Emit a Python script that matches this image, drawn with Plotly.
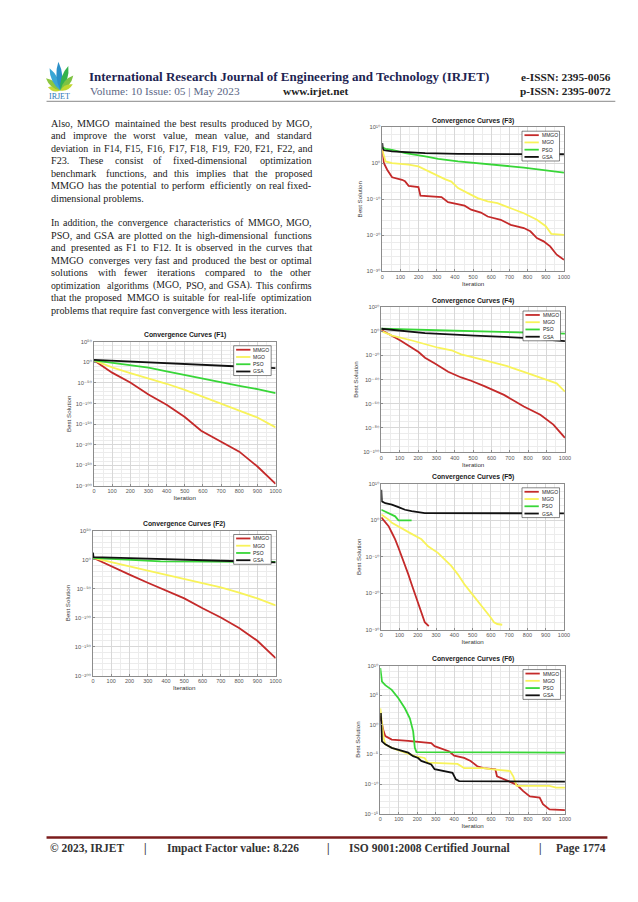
import math
import plotly.graph_objects as go

W, H = 638, 902

# ------------------------------------------------------------------
# DATA  (iteration, log10 of best solution)
# ------------------------------------------------------------------
ALGOS = ["MMGO", "MGO", "PSO", "GSA"]
X_TICKS = [0, 100, 200, 300, 400, 500, 600, 700, 800, 900, 1000]

F1_MMGO_IT = [0, 100, 200, 300, 400, 500, 590, 700, 800, 900, 1000]
F1_MMGO_LG = [5, -25, -49, -78, -103, -133, -166, -192, -217, -253, -295]
F1_MGO_IT = [0, 100, 200, 300, 400, 500, 600, 700, 800, 900, 1000]
F1_MGO_LG = [5, -12, -26, -39, -52, -67, -84, -100, -117, -134, -158]
F1_PSO_IT = [0, 100, 200, 300, 400, 500, 600, 700, 800, 900, 1000]
F1_PSO_LG = [5, -1, -7, -13, -22, -31, -40, -49, -57, -65, -75]
F1_GSA_IT = [0, 100, 200, 300, 400, 500, 600, 700, 800, 900, 1000]
F1_GSA_LG = [6, 4, 2, 0, -2, -4, -6, -8, -10, -12, -14]

F2_MMGO_IT = [0, 100, 200, 300, 400, 500, 600, 700, 800, 900, 1000]
F2_MMGO_LG = [3, -12, -26, -40, -53, -67, -84, -100, -118, -140, -170]
F2_MGO_IT = [0, 100, 200, 300, 400, 500, 600, 700, 800, 900, 1000]
F2_MGO_LG = [3, -5, -12, -19, -26, -33, -40, -48, -57, -67, -79]
F2_PSO_IT = [0, 3, 100, 200, 300, 360, 370, 1000]
F2_PSO_LG = [6, 3, 1, -1, -2, -3, -3.2, -4]
F2_GSA_IT = [0, 3, 200, 400, 600, 800, 1000]
F2_GSA_LG = [12, 4, 2.5, 1, -1, -3, -5]

F3_MMGO_IT = [0, 9, 27, 54, 109, 125, 145, 199, 210, 326, 362, 453, 489, 543, 580,
              652, 707, 779, 815, 851, 888, 924, 960, 1000]
F3_MMGO_LG = [3.7, 0, -1.8, -3.9, -4.6, -5.0, -6.3, -6.6, -9.0, -9.4, -10.8, -11.8,
              -12.9, -13.7, -14.8, -15.7, -17.1, -18.0, -18.9, -20.8, -21.7, -23.1,
              -25.4, -26.8]
F3_MGO_IT = [0, 18, 54, 145, 199, 236, 290, 344, 380, 417, 471, 525, 580, 634, 707,
             779, 851, 900, 930, 1000]
F3_MGO_LG = [3.7, 0.5, 0, -0.4, -0.9, -1.8, -3.2, -4.4, -5.1, -6.9, -8.3, -9.7,
             -10.6, -11.1, -12.5, -13.9, -15.7, -17.5, -19.6, -19.9]
F3_PSO_IT = [0, 18, 54, 127, 236, 308, 417, 598, 779, 1000]
F3_PSO_LG = [4.4, 4.0, 3.7, 2.8, 1.9, 1.2, 0.5, -0.4, -1.2, -2.6]
F3_GSA_IT = [0, 3, 10, 54, 236, 417, 1000]
F3_GSA_LG = [5.6, 4.0, 3.6, 3.3, 2.8, 2.6, 2.5]

F4_MMGO_IT = [0, 104, 203, 238, 292, 364, 435, 489, 561, 668, 776, 866, 937, 1000]
F4_MMGO_LG = [1, -7.7, -17.2, -21.9, -26.8, -33.6, -38.3, -41, -45.4, -52.7, -62.3,
              -69.1, -77.3, -88.3]
F4_MGO_IT = [0, 59, 167, 238, 310, 382, 435, 507, 597, 686, 776, 866, 955, 1000]
F4_MGO_LG = [0, -3.6, -7.7, -10.9, -13.7, -15.8, -19.1, -21.9, -25.4, -29, -33.6,
             -38.3, -43.2, -50]
F4_PSO_IT = [0, 250, 500, 750, 1000]
F4_PSO_LG = [2, 1, 0, -1, -2]
F4_GSA_IT = [0, 238, 507, 776, 1000]
F4_GSA_LG = [2, -1.6, -3.6, -5.5, -8.2]

F5_MMGO_IT = [0, 9, 40, 58, 76, 94, 112, 130, 148, 166, 184, 202, 220, 238, 260]
F5_MMGO_LG = [0.8, 0.2, -1.6, -3.4, -5.2, -7.5, -9.8, -12.0, -14.8, -17.5, -20.2,
              -22.9, -25.6, -27.9, -29.0]
F5_MGO_IT = [0, 40, 58, 112, 166, 220, 256, 310, 347, 383, 419, 455, 491, 527, 563,
             599, 617, 635, 662]
F5_MGO_LG = [1.6, 0.2, -0.7, -2.1, -3.7, -5.2, -7.1, -8.9, -10.7, -12.5, -14.8,
             -17.5, -19.8, -22.0, -24.3, -26.6, -27.9, -28.4, -28.6]
F5_PSO_IT = [0, 40, 76, 94, 166]
F5_PSO_LG = [2.9, 2.0, 1.1, 0, 0]
F5_GSA_IT = [0, 3, 22, 58, 94, 130, 166, 202, 238, 1000]
F5_GSA_LG = [8.4, 5.2, 4.7, 4.3, 3.6, 2.9, 2.5, 2.2, 2.0, 1.9]

F6_MMGO_IT = [0, 5, 18, 27, 44, 62, 151, 240, 276, 294, 347, 374, 400, 454, 489, 525,
              560, 623, 632, 667, 738, 774, 810, 863, 881, 916, 1000]
F6_MMGO_LG = [1.5, 0.6, -1.1, -1.9, -2.2, -2.5, -2.7, -2.9, -3.1, -3.6, -4.2, -4.5,
              -5.2, -5.6, -6.1, -7.0, -7.3, -7.5, -8.7, -9.2, -10.1, -11.2, -12.1,
              -12.3, -13.4, -14.3, -14.4]
F6_MGO_IT = [0, 9, 18, 27, 62, 116, 187, 240, 258, 418, 454, 560, 596, 703, 720, 738,
             916, 952, 1000]
F6_MGO_LG = [2.8, 0, -2.2, -3.3, -3.9, -4.5, -5.3, -5.6, -6.4, -6.6, -7.3, -7.3,
             -7.5, -7.8, -8.7, -10.3, -10.3, -10.6, -10.6]
F6_PSO_IT = [0, 9, 27, 62, 98, 133, 160, 178, 187, 196, 1000]
F6_PSO_LG = [9.6, 7.3, 6.7, 5.9, 4.5, 2.8, 1.1, -1.1, -3.9, -4.6, -4.7]
F6_GSA_IT = [0, 3, 9, 27, 62, 151, 178, 205, 222, 276, 294, 347, 391, 409, 427, 1000]
F6_GSA_LG = [0.6, 2, -2.8, -3.3, -3.9, -4.7, -5.3, -5.6, -6.1, -6.7, -7.5, -7.8,
             -8.1, -9.2, -9.5, -9.6]

# ------------------------------------------------------------------
# TEXT
# ------------------------------------------------------------------
PARA1 = [
    "Also, MMGO maintained the best results produced by MGO,",
    "and improve the worst value, mean value, and standard",
    "deviation in F14, F15, F16, F17, F18, F19, F20, F21, F22, and",
    "F23. These consist of fixed-dimensional optimization",
    "benchmark functions, and this implies that the proposed",
    "MMGO has the potential to perform efficiently on real fixed-",
    "dimensional problems.",
]
PARA2 = [
    "In addition, the convergence characteristics of MMGO, MGO,",
    "PSO, and GSA are plotted on the high-dimensional functions",
    "and presented as F1 to F12. It is observed in the curves that",
    "MMGO converges very fast and produced the best or optimal",
    "solutions with fewer iterations compared to the other",
    "optimization algorithms (MGO, PSO, and GSA). This confirms",
    "that the proposed MMGO is suitable for real-life optimization",
    "problems that require fast convergence with less iteration.",
]
HEADER_TITLE = "International Research Journal of Engineering and Technology (IRJET)"
HEADER_EISSN = "e-ISSN: 2395-0056"
HEADER_VOL = "Volume: 10 Issue: 05 | May 2023"
HEADER_WEB = "www.irjet.net"
HEADER_PISSN = "p-ISSN: 2395-0072"
FOOTER = ["© 2023, IRJET", "|", "Impact Factor value: 8.226", "|",
          "ISO 9001:2008 Certified Journal", "|", "Page 1774"]

# ------------------------------------------------------------------
# STYLE / LAYOUT
# ------------------------------------------------------------------
COLORS = {"MMGO": "#c42a2a", "MGO": "#f8f35a", "PSO": "#38d638", "GSA": "#111111"}
SANS = "Liberation Sans, Arial, DejaVu Sans, sans-serif"
SERIF = "Liberation Serif, Times New Roman, serif"
GRID = "#d8d8d8"
MINOR = "#ececec"
AXC = "#8c8c8c"
TICKC = "#555555"
LW = 1.8
SUP = str.maketrans("0123456789-", "⁰¹²³⁴⁵⁶⁷⁸⁹⁻")

DATA = {
    "F1": {"MMGO": (F1_MMGO_IT, F1_MMGO_LG), "MGO": (F1_MGO_IT, F1_MGO_LG),
           "PSO": (F1_PSO_IT, F1_PSO_LG), "GSA": (F1_GSA_IT, F1_GSA_LG)},
    "F2": {"MMGO": (F2_MMGO_IT, F2_MMGO_LG), "MGO": (F2_MGO_IT, F2_MGO_LG),
           "PSO": (F2_PSO_IT, F2_PSO_LG), "GSA": (F2_GSA_IT, F2_GSA_LG)},
    "F3": {"MMGO": (F3_MMGO_IT, F3_MMGO_LG), "MGO": (F3_MGO_IT, F3_MGO_LG),
           "PSO": (F3_PSO_IT, F3_PSO_LG), "GSA": (F3_GSA_IT, F3_GSA_LG)},
    "F4": {"MMGO": (F4_MMGO_IT, F4_MMGO_LG), "MGO": (F4_MGO_IT, F4_MGO_LG),
           "PSO": (F4_PSO_IT, F4_PSO_LG), "GSA": (F4_GSA_IT, F4_GSA_LG)},
    "F5": {"MMGO": (F5_MMGO_IT, F5_MMGO_LG), "MGO": (F5_MGO_IT, F5_MGO_LG),
           "PSO": (F5_PSO_IT, F5_PSO_LG), "GSA": (F5_GSA_IT, F5_GSA_LG)},
    "F6": {"MMGO": (F6_MMGO_IT, F6_MMGO_LG), "MGO": (F6_MGO_IT, F6_MGO_LG),
           "PSO": (F6_PSO_IT, F6_PSO_LG), "GSA": (F6_GSA_IT, F6_GSA_LG)},
}

# axes box in page pixels (left, top, right, bottom), log range, major & minor step
CHARTS = [
    ("F1", (85, 333, 269, 478), (-300, 50), 50, 10),
    ("F2", (84, 523, 269, 669), (-200, 50), 50, 10),
    ("F3", (377, 117, 561, 262), (-30, 10), 10, 2),
    ("F4", (376, 298, 562, 444), (-100, 20), 20, 5),
    ("F5", (376, 476, 561, 623), (-30, 10), 10, 2),
    ("F6", (375, 659, 562, 808), (-15, 10), 5, 1),
]


def X(px):
    return px / W


def Y(py):
    return 1 - py / H


fig = go.Figure()
layout = {}
shapes = []
annots = []


def text(x, y, s, size, color="#1a1a1a", family=SERIF, anchor="left", bold=False):
    annots.append(dict(x=X(x), y=Y(y), xref="paper", yref="paper",
                       text=("<b>%s</b>" % s) if bold else s, showarrow=False,
                       xanchor=anchor, yanchor="middle", borderpad=0,
                       font=dict(family=family, size=size, color=color)))


for i, (name, (l, t, r, b), (lo, hi), major, minor) in enumerate(CHARTS):
    s = "" if i == 0 else str(i + 1)
    for algo in ALGOS:
        its, lgs = DATA[name][algo]
        fig.add_trace(go.Scatter(
            x=its, y=[10.0 ** v for v in lgs], mode="lines", name=algo,
            line=dict(color=COLORS[algo], width=LW), showlegend=False,
            hoverinfo="skip", xaxis="x" + s, yaxis="y" + s))
    maj = list(range(lo, hi + 1, major))
    mins = [k for k in range(lo, hi + 1, minor) if (k - lo) % major]
    layout["xaxis" + s] = dict(
        domain=[X(l), X(r)], range=[0, 1000], anchor="y" + s,
        tickvals=X_TICKS, ticktext=[str(v) for v in X_TICKS],
        showgrid=True, gridcolor=GRID, gridwidth=0.6,
        minor=dict(tickvals=[v + 50 for v in X_TICKS[:-1]], showgrid=True,
                   gridcolor=MINOR, gridwidth=0.5, ticks=""),
        showline=True, mirror=True, linecolor=AXC, linewidth=0.8,
        ticks="inside", ticklen=2, tickcolor=AXC, tickwidth=0.6,
        tickfont=dict(size=5.5, color=TICKC, family=SANS),
        title=dict(text="Iteration", font=dict(size=6.2, color="#333", family=SANS),
                   standoff=1),
        zeroline=False, fixedrange=True)
    layout["yaxis" + s] = dict(
        domain=[Y(b), Y(t)], type="log", range=[lo, hi], anchor="x" + s,
        tickvals=[10.0 ** k for k in maj],
        ticktext=["10" + str(k).translate(SUP) for k in maj],
        showgrid=True, gridcolor=GRID, gridwidth=0.6,
        minor=dict(tickvals=[10.0 ** k for k in mins], showgrid=True,
                   gridcolor=MINOR, gridwidth=0.5, ticks=""),
        showline=True, mirror=True, linecolor=AXC, linewidth=0.8,
        ticks="inside", ticklen=2, tickcolor=AXC, tickwidth=0.6,
        tickfont=dict(size=5.8, color=TICKC, family=SANS),
        title=dict(text="Best Solution", font=dict(size=6.2, color="#333", family=SANS),
                   standoff=3),
        zeroline=False, fixedrange=True)
    # chart title
    text((l + r) / 2, t - 6.5, "Convergence Curves (%s)" % name, 6.8, "#1a1a1a",
         SANS, "center", bold=True)
    # legend box
    lr = r - 4.5
    ll = lr - 38
    lt = t + 4
    lb = lt + 30
    shapes.append(dict(type="rect", xref="paper", yref="paper", x0=X(ll), x1=X(lr),
                       y0=Y(lb), y1=Y(lt), line=dict(color="#333", width=0.6),
                       fillcolor="white", layer="above"))
    for k, algo in enumerate(ALGOS):
        yy = lt + 4 + k * 7.3
        shapes.append(dict(type="line", xref="paper", yref="paper", x0=X(ll + 2.5),
                           x1=X(ll + 17), y0=Y(yy), y1=Y(yy),
                           line=dict(color=COLORS[algo], width=LW), layer="above"))
        text(ll + 19, yy, algo, 5, "#222", SANS, "left")

# ------------------------------------------------------------------
# body text (justified, word by word)
# ------------------------------------------------------------------
TW = {' ': 250, 'a': 444, 'b': 500, 'c': 444, 'd': 500, 'e': 444, 'f': 333, 'g': 500,
      'h': 500, 'i': 278, 'j': 278, 'k': 500, 'l': 278, 'm': 778, 'n': 500, 'o': 500,
      'p': 500, 'q': 500, 'r': 333, 's': 389, 't': 278, 'u': 500, 'v': 500, 'w': 722,
      'x': 500, 'y': 500, 'z': 444, 'A': 722, 'B': 667, 'C': 667, 'D': 722, 'E': 611,
      'F': 556, 'G': 722, 'H': 722, 'I': 333, 'J': 389, 'K': 722, 'L': 611, 'M': 889,
      'N': 722, 'O': 722, 'P': 556, 'Q': 722, 'R': 667, 'S': 556, 'T': 611, 'U': 722,
      'V': 722, 'W': 944, 'X': 722, 'Y': 722, 'Z': 611, ',': 250, '.': 250, '-': 333,
      '(': 333, ')': 333, ':': 278}
BODY_SIZE = 10.2
WFAC = 1.08
MIN_GAP = 2.4
XL, XR = 41, 307


def tw(s, size):
    return sum(TW.get(c, 500) for c in s) / 1000.0 * size * WFAC


def para(lines, y0):
    for j, line in enumerate(lines):
        y = y0 + j * 12.6
        if j == len(lines) - 1:
            text(XL, y, line, BODY_SIZE)
            continue
        words = line.split(" ")
        n = len(words)
        size = BODY_SIZE
        ws = [tw(w_, size) for w_ in words]
        if sum(ws) + MIN_GAP * (n - 1) > XR - XL:
            size = size * (XR - XL - MIN_GAP * (n - 1)) / sum(ws)
            ws = [tw(w_, size) for w_ in words]
        gap = (XR - XL - sum(ws)) / (n - 1)
        cur = XL
        for k, (w_, ww) in enumerate(zip(words, ws)):
            if k == 0:
                text(cur, y, w_, size, anchor="left")
            elif k == n - 1:
                text(XR, y, w_, size, anchor="right")
            else:
                text(cur + ww / 2, y, w_, size, anchor="center")
            cur += ww + gap


para(PARA1, 113)
para(PARA2, 213)

# ------------------------------------------------------------------
# header
# ------------------------------------------------------------------
LEAVES = [(165, 13, 2.4, "#c5d835"), (140, 19, 2.8, "#8cc63f"), (116, 25, 3.0, "#3aa6d4"),
          (94, 29, 3.0, "#2a8fc8"), (72, 26, 3.0, "#35b24c"), (49, 20, 2.8, "#7dc242"),
          (26, 14, 2.4, "#c0d730")]
bx, by = 51, 80
for ang, ln, wd, col in LEAVES:
    a = math.radians(ang)
    tx, ty = bx + ln * math.cos(a), by - ln * math.sin(a)
    mx, my = (bx + tx) / 2, (by + ty) / 2
    nx, ny = -math.sin(a), -math.cos(a)
    c1 = (mx + nx * wd * 2, my + ny * wd * 2)
    c2 = (mx - nx * wd * 2, my - ny * wd * 2)
    path = "M %f,%f Q %f,%f %f,%f Q %f,%f %f,%f Z" % (
        X(bx), Y(by), X(c1[0]), Y(c1[1]), X(tx), Y(ty), X(c2[0]), Y(c2[1]), X(bx), Y(by))
    shapes.append(dict(type="path", xref="paper", yref="paper", path=path,
                       fillcolor=col, line=dict(width=0)))
text(50, 86, "IRJET", 8, "#2a78b8", SERIF, "center")

text(79, 66, HEADER_TITLE, 13, "#1d2452", SERIF, "left", bold=True)
text(610, 66, HEADER_EISSN, 11.3, "#222", SERIF, "right", bold=True)
text(80, 81, HEADER_VOL, 11.3, "#5a6685", SERIF, "left")
text(275, 81, HEADER_WEB, 11.3, "#222", SERIF, "left", bold=True)
text(610, 81, HEADER_PISSN, 11.3, "#222", SERIF, "right", bold=True)
shapes.append(dict(type="line", xref="paper", yref="paper", x0=X(37), x1=X(613),
                   y0=Y(91), y1=Y(91), line=dict(color="#a0a0a0", width=1.2)))

# ------------------------------------------------------------------
# footer
# ------------------------------------------------------------------
shapes.append(dict(type="line", xref="paper", yref="paper", x0=X(37), x1=X(605),
                   y0=Y(832), y1=Y(832), line=dict(color="#7b1c1c", width=2.6)))
FOOT_X = [39, 137, 158, 323, 342, 537, 552]
for s_, fx in zip(FOOTER, FOOT_X):
    text(fx, 843, s_, 11.5, "#333", SERIF, "center" if s_ == "|" else "left", bold=True)

layout.update(dict(
    width=W, height=H, margin=dict(l=0, r=0, t=0, b=0),
    paper_bgcolor="white", plot_bgcolor="white", showlegend=False,
    shapes=shapes, annotations=annots))
fig.update_layout(**layout)
fig.write_html("out.html")
